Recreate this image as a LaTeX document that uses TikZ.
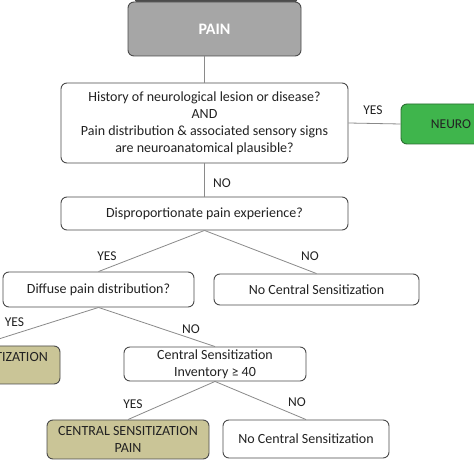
\documentclass[tikz,border=0pt]{standalone}
\usepackage{fontspec}
\setmainfont{Carlito}
\definecolor{boxline}{HTML}{4A4A4A}
\definecolor{conn}{HTML}{8A8A8A}
\definecolor{painfill}{HTML}{A6A6A6}
\definecolor{neurofill}{HTML}{3FB54C}
\definecolor{neuroline}{HTML}{2A6E30}
\definecolor{olive}{HTML}{CAC597}
\definecolor{txt}{HTML}{222222}
\tikzset{
  box/.style={draw=boxline, line width=0.9pt, rectangle, rounded corners=6pt, fill=white,
    align=center, inner sep=0pt, text=txt, font=\fontsize{14}{17}\selectfont},
  painbox/.style={box, fill=painfill, text=white, font=\fontsize{16}{18}\selectfont\bfseries},
  neurobox/.style={box, fill=neurofill, draw=neuroline, text=txt, font=\fontsize{13.5}{16}\selectfont},
  csbox/.style={box, fill=olive},
  conn/.style={draw=conn, line width=0.8pt},
  lab/.style={text=txt, font=\fontsize{13.5}{15}\selectfont, inner sep=0pt}
}
\begin{document}
\begin{tikzpicture}[x=1pt,y=1pt]
\useasboundingbox (0,0) rectangle (474,474);
\clip (0,0) rectangle (474,474);
\fill[white] (0,0) rectangle (474,474);
% boxes
\node[box, fill=gray!60!black, draw=boxline, minimum width=162pt, minimum height=20pt] (painback) at (216,480) {};
\node[painbox, minimum width=173pt, minimum height=54pt] (pain) at (214.5,445) {PAIN};
\node[box, minimum width=287pt, minimum height=80pt] (q1) at (204.5,351)
  {History of neurological lesion or disease?\\AND\\Pain distribution \& associated sensory signs\\are neuroanatomical plausible?};
\node[neurobox, minimum width=100pt, minimum height=40pt] (neuro) at (451,350) {NEURO};
\node[box, minimum width=287pt, minimum height=33pt] (q2) at (204.5,260.5) {Disproportionate pain experience?};
\node[box, minimum width=191pt, minimum height=35pt] (diffuse) at (98.5,184.5) {Diffuse pain distribution?};
\node[box, minimum width=205pt, minimum height=31pt] (nocs1) at (316.5,184.5) {No Central Sensitization};
\node[csbox, minimum width=164pt, minimum height=38pt] (csleft) at (-22,109) {CENTRAL SENSITIZATION\\PAIN};
\node[box, minimum width=182pt, minimum height=34pt] (csi) at (215,110) {Central Sensitization\\Inventory ≥ 40};
\node[csbox, minimum width=162pt, minimum height=39pt] (csp) at (128,34.5) {CENTRAL SENSITIZATION\\PAIN};
\node[box, minimum width=166pt, minimum height=38pt] (nocs2) at (306,35) {No Central Sensitization};
% connectors
\draw[conn] (q1.north) -- (q1.north |- pain.south);
\draw[conn] (q1.east) -- (neuro.west);
\draw[conn] (q1.south) -- (q2.north);
\draw[conn] (q2.south) -- (diffuse.north);
\draw[conn] (q2.south) -- (nocs1.north);
\draw[conn] (diffuse.south) -- (csleft.north);
\draw[conn] (diffuse.south) -- (csi.north);
\draw[conn] (csi.south) -- (csp.north);
\draw[conn] (csi.south) -- (nocs2.north);
% labels
\node[lab] (l1) at (373,364) {YES};
\node[lab] (l2) at (222,291) {NO};
\node[lab] (l3) at (107,218) {YES};
\node[lab] (l4) at (310,218) {NO};
\node[lab] (l5) at (14.5,151.5) {YES};
\node[lab] (l6) at (191,145) {NO};
\node[lab] (l7) at (133,69.5) {YES};
\node[lab] (l8) at (297,71.5) {NO};
\end{tikzpicture}
\end{document}
